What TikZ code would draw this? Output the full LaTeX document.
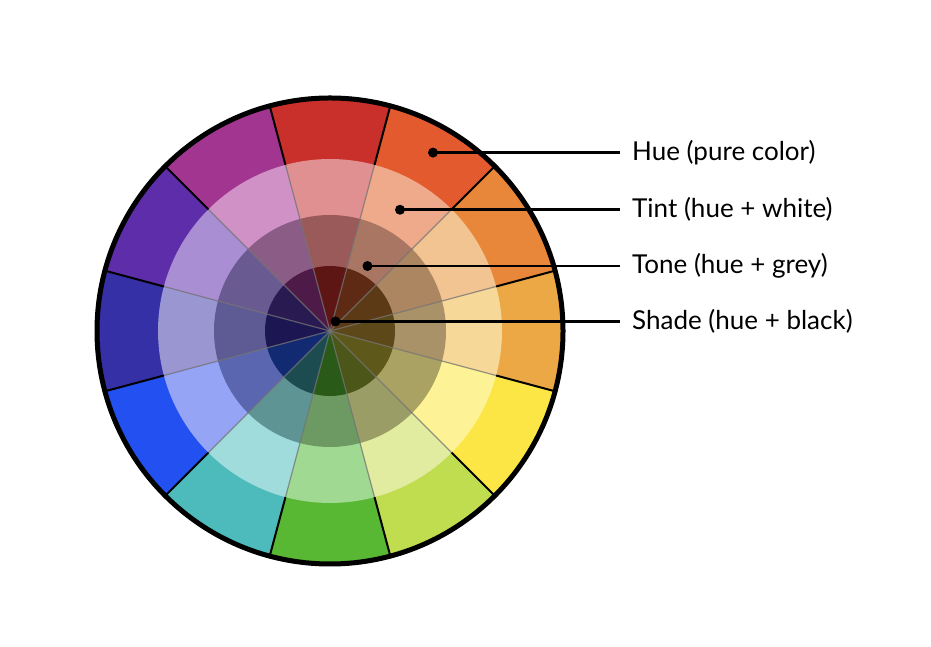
\documentclass[tikz,border=0pt]{standalone}
\usepackage{fontspec}
\setmainfont{Lato}
\usetikzlibrary{calc}

% pure colours, then + white, + grey, + black (red at the top, clockwise)
\definecolor{hue1}{HTML}{C9302C}
\definecolor{hue2}{HTML}{E35A2E}
\definecolor{hue3}{HTML}{E8863A}
\definecolor{hue4}{HTML}{EBA844}
\definecolor{hue5}{HTML}{FCE645}
\definecolor{hue6}{HTML}{C0DD50}
\definecolor{hue7}{HTML}{58B834}
\definecolor{hue8}{HTML}{4DBBBB}
\definecolor{hue9}{HTML}{2350F0}
\definecolor{hue10}{HTML}{3530A5}
\definecolor{hue11}{HTML}{5E2EAA}
\definecolor{hue12}{HTML}{A2358F}

\definecolor{tint1}{HTML}{E09090}
\definecolor{tint2}{HTML}{EEAA8A}
\definecolor{tint3}{HTML}{F2C492}
\definecolor{tint4}{HTML}{F6D898}
\definecolor{tint5}{HTML}{FDF296}
\definecolor{tint6}{HTML}{E2ECA0}
\definecolor{tint7}{HTML}{A0DA92}
\definecolor{tint8}{HTML}{A0DCDC}
\definecolor{tint9}{HTML}{96A4F6}
\definecolor{tint10}{HTML}{9A96D2}
\definecolor{tint11}{HTML}{AA8ED4}
\definecolor{tint12}{HTML}{D092C6}

\definecolor{tone1}{HTML}{9A5A5A}
\definecolor{tone2}{HTML}{A87662}
\definecolor{tone3}{HTML}{AB8660}
\definecolor{tone4}{HTML}{AA9268}
\definecolor{tone5}{HTML}{AAA262}
\definecolor{tone6}{HTML}{9A9E66}
\definecolor{tone7}{HTML}{6C9A62}
\definecolor{tone8}{HTML}{5E9494}
\definecolor{tone9}{HTML}{5A66B0}
\definecolor{tone10}{HTML}{5E5A94}
\definecolor{tone11}{HTML}{6A5A92}
\definecolor{tone12}{HTML}{8A5C86}

\definecolor{shade1}{HTML}{5E1614}
\definecolor{shade2}{HTML}{5E2A14}
\definecolor{shade3}{HTML}{5C3A16}
\definecolor{shade4}{HTML}{5C4818}
\definecolor{shade5}{HTML}{5E581A}
\definecolor{shade6}{HTML}{4C5618}
\definecolor{shade7}{HTML}{2A5A18}
\definecolor{shade8}{HTML}{1C4C50}
\definecolor{shade9}{HTML}{122A72}
\definecolor{shade10}{HTML}{1C1652}
\definecolor{shade11}{HTML}{2A1A52}
\definecolor{shade12}{HTML}{4E1A48}

\begin{document}
\begin{tikzpicture}[x=1pt, y=1pt,
    dot/.style={circle, fill=black, inner sep=0pt, minimum size=10pt},
    label line/.style={line width=2.5pt},
    label text/.style={anchor=west, inner sep=0pt, font=\fontsize{26}{30}\selectfont},
    hue sep/.style={line width=2pt},
    ring sep/.style={line width=1.2pt, black!55, opacity=0.75}]

    \useasboundingbox (0,0) rectangle (931,647);

    \coordinate (centre) at (330,316);
    \coordinate (line end) at (620,0);

    % rings, outer to inner
    \foreach \ring/\r in {hue/235, tint/172, tone/116, shade/65}
    \foreach \x in {1,...,12} {
        \pgfmathsetmacro{\a}{105 - 30*(\x - 1)}
        \pgfmathsetmacro{\b}{\a - 30}
        \fill[fill=\ring\x] (centre) -- ++(\a:\r)
            arc[start angle=\a, end angle=\b, radius=\r] -- cycle;
    }

    \foreach \x in {1,...,12} {
        \pgfmathsetmacro{\a}{105 - 30*(\x - 1)}
        \draw[ring sep] (centre) -- ++(\a:172);
        \draw[hue sep] ($(centre)+(\a:172)$) -- ($(centre)+(\a:235)$);
    }

    \draw[line width=5pt] (centre) circle[radius=233];

    \foreach \name/\r/\txt in {hue/206/Hue (pure color),
        tint/140/Tint (hue + white), tone/75/Tone (hue + grey),
        shade/11/Shade (hue + black)} {
        \node[dot] (\name dot) at ($(centre)+(60:\r)$) {};
        \coordinate (\name end) at (\name dot -| line end);
        \draw[label line] (\name dot.center) -- (\name end);
        \node[label text] (\name label) at ([xshift=12pt]\name end) {\txt};
    }
\end{tikzpicture}
\end{document}
